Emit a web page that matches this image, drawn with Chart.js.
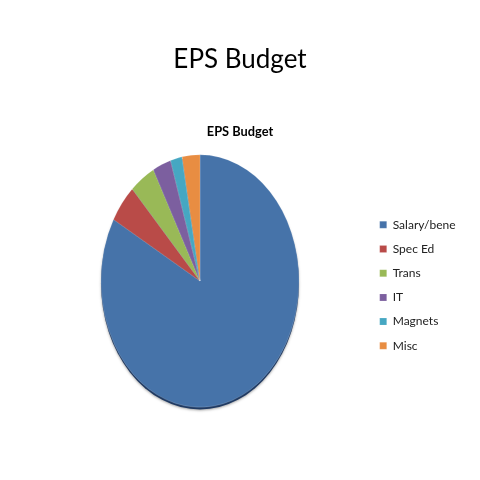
<!DOCTYPE html>
<html>
<head>
<meta charset="utf-8">
<script src="https://cdn.jsdelivr.net/npm/chart.js@4"></script>
<style>
  html, body { margin: 0; padding: 0; background: #ffffff; }
  #wrap { width: 480px; height: 480px; }
</style>
</head>
<body>
<div id="wrap"><canvas id="c" width="480" height="480"></canvas></div>
<script>
const pageTitle = "EPS Budget";
const chartTitle = "EPS Budget";
const categories = ["Salary/bene", "Spec Ed", "Trans", "IT", "Magnets", "Misc"];
const shares = [83.1, 4.9, 4.2, 3.0, 1.9, 2.9];
const sliceColors = ["#4673a9", "#b94b48", "#99b957", "#7c5f9f", "#46a7c2", "#e88d42"];

const PIE_CX = 200, PIE_CY = 281, PIE_R = 99, STRETCH = 1.275;

const ellipsePlugin = {
  id: 'ellipse',
  beforeDatasetsDraw(chart) {
    const arc = chart.getDatasetMeta(0).data[0];
    const ctx = chart.ctx;
    const r = arc.outerRadius;
    // soft dark rim under the pie
    ctx.save();
    ctx.shadowColor = 'rgba(0,0,0,0.35)';
    ctx.shadowBlur = 2.5;
    ctx.shadowOffsetY = 1;
    ctx.fillStyle = '#1f3a63';
    ctx.beginPath();
    ctx.ellipse(PIE_CX, PIE_CY + 2.2, r, r * STRETCH, 0, 0, Math.PI * 2);
    ctx.fill();
    ctx.restore();

    ctx.save();
    ctx.translate(PIE_CX, PIE_CY);
    ctx.scale(1, STRETCH);
    ctx.translate(-arc.x, -arc.y);
  },
  afterDatasetsDraw(chart) {
    chart.ctx.restore();
  }
};

new Chart(document.getElementById('c'), {
  type: 'pie',
  data: {
    labels: categories,
    datasets: [{
      data: shares,
      backgroundColor: sliceColors,
      borderColor: 'rgba(255,255,255,0.3)',
      borderWidth: 0.5
    }]
  },
  options: {
    responsive: false,
    animation: false,
    events: [],
    radius: PIE_R,
    layout: { padding: { left: 14.5, right: 14.5, top: 0, bottom: 58 } },
    plugins: {
      title: {
        display: true,
        text: pageTitle,
        color: '#000000',
        font: { family: 'Lato', size: 26, weight: 'normal' },
        padding: { top: 44, bottom: 49 }
      },
      subtitle: {
        display: true,
        text: chartTitle,
        color: '#000000',
        font: { family: 'Lato', size: 12.8, weight: 'bold' },
        padding: { top: 0, bottom: 9 }
      },
      legend: {
        position: 'right',
        align: 'center',
        fullSize: false,
        labels: {
          color: '#222222',
          font: { family: 'Lato', size: 12 },
          boxWidth: 7,
          boxHeight: 7,
          padding: 12.2
        }
      },
      tooltip: { enabled: false }
    }
  },
  plugins: [ellipsePlugin]
});
</script>
</body>
</html>
